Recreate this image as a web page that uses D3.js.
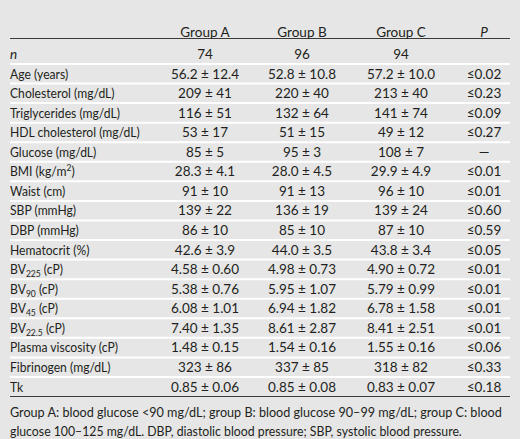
<!DOCTYPE html>
<html><head><meta charset="utf-8">
<script src="https://cdn.jsdelivr.net/npm/d3@7"></script>
<style>html,body{margin:0;padding:0;background:#e6e6e6;}svg{display:block;}</style>
</head><body>
<svg id="c" width="520" height="439"></svg>
<script>
// ---- data ----
const groups = ["Group A", "Group B", "Group C"];
const nCounts = [74, 96, 94];
const rowLabels = ["Age (years)", "Cholesterol (mg/dL)", "Triglycerides (mg/dL)", "HDL cholesterol (mg/dL)",
  "Glucose (mg/dL)", "BMI (kg/m2)", "Waist (cm)", "SBP (mmHg)", "DBP (mmHg)", "Hematocrit (%)",
  "BV225 (cP)", "BV90 (cP)", "BV45 (cP)", "BV22.5 (cP)", "Plasma viscosity (cP)", "Fibrinogen (mg/dL)", "Tk"];
const decimals = [1, 0, 0, 0, 0, 1, 0, 0, 0, 1, 2, 2, 2, 2, 2, 0, 2];
const meanA = [56.2, 209, 116, 53, 85, 28.3, 91, 139, 86, 42.6, 4.58, 5.38, 6.08, 7.40, 1.48, 323, 0.85];
const sdA   = [12.4, 41, 51, 17, 5, 4.1, 10, 22, 10, 3.9, 0.60, 0.76, 1.01, 1.35, 0.15, 86, 0.06];
const meanB = [52.8, 220, 132, 51, 95, 28.0, 91, 136, 85, 44.0, 4.98, 5.95, 6.94, 8.61, 1.54, 337, 0.85];
const sdB   = [10.8, 40, 64, 15, 3, 4.5, 13, 19, 10, 3.5, 0.73, 1.07, 1.82, 2.87, 0.16, 85, 0.08];
const meanC = [57.2, 213, 141, 49, 108, 29.9, 96, 139, 87, 43.8, 4.90, 5.79, 6.78, 8.41, 1.55, 318, 0.83];
const sdC   = [10.0, 40, 74, 12, 7, 4.9, 10, 24, 10, 3.4, 0.72, 0.99, 1.58, 2.51, 0.16, 82, 0.07];
const pValues = ["≤0.02", "≤0.23", "≤0.09", "≤0.27", "—", "≤0.01", "≤0.01", "≤0.60", "≤0.59", "≤0.05",
  "≤0.01", "≤0.01", "≤0.01", "≤0.01", "≤0.06", "≤0.33", "≤0.18"];
const footnote = ["Group A: blood glucose <90 mg/dL; group B: blood glucose 90–99 mg/dL; group C: blood",
  "glucose 100–125 mg/dL. DBP, diastolic blood pressure; SBP, systolic blood pressure."];

// ---- layout ----
const FONT = "Lato, 'Open Sans', sans-serif";
const FS = 13.5;
const TXT = "#231f20";
const svg = d3.select("#c").style("font-family", FONT).style("font-size", FS + "px");
const left = 10, right = 510;
svg.append("rect").attr("width", 520).attr("height", 439).attr("fill", "#e6e6e6");

const colKeys = ["A", "B", "C", "P"];
const x = d3.scaleOrdinal().domain(colKeys).range([205, 302, 401, 484]);
const y = d3.scaleBand().domain(d3.range(rowLabels.length)).range([64, 396.5]);

// white separators
svg.append("g").selectAll("line").data(d3.range(rowLabels.length)).join("line")
  .attr("x1", left).attr("x2", right)
  .attr("y1", d => y(d)).attr("y2", d => y(d))
  .attr("stroke", "#fff").attr("stroke-width", 2);

// rules
svg.append("line").attr("x1", left).attr("x2", right).attr("y1", 38.5).attr("y2", 38.5)
  .attr("stroke", "#3a3a3a").attr("stroke-width", 1.2);
svg.append("line").attr("x1", left).attr("x2", right).attr("y1", 396.5).attr("y2", 396.5)
  .attr("stroke", "#3a3a3a").attr("stroke-width", 1.2);

// header
const head = svg.append("g").attr("fill", TXT);
groups.forEach((g, i) => head.append("text").attr("x", x(colKeys[i])).attr("y", 36.8)
  .attr("text-anchor", "middle").text(g));
head.append("text").attr("x", x("P")).attr("y", 36.8).attr("text-anchor", "middle")
  .attr("font-style", "italic").text("P");

// n row
const nY = 59.3;
head.append("text").attr("x", left).attr("y", nY).attr("font-style", "italic").text("n");
nCounts.forEach((v, i) => head.append("text").attr("x", x(colKeys[i])).attr("y", nY)
  .attr("text-anchor", "middle").text(v));

// body rows
const fmtPM = (m, s, d) => m.toFixed(d) + " ± " + s.toFixed(d);
const body = svg.append("g").attr("fill", TXT);
const rows = body.selectAll("g.row").data(rowLabels.map((l, i) => ({l, i}))).join("g")
  .attr("class", "row")
  .attr("transform", d => `translate(0,${y(d.i) + y.bandwidth() / 2 + 4.8})`);

rows.each(function(d) {
  const g = d3.select(this);
  const t = g.append("text").attr("transform", `translate(${left},0) scale(0.9,1)`);
  const m = d.l.match(/^BV([\d.]+) (.*)$/);
  if (m) {
    t.append("tspan").text("BV");
    t.append("tspan").attr("font-size", 9.5).attr("dy", 3).text(m[1]);
    t.append("tspan").attr("dy", -3).text(" " + m[2]);
  } else if (d.l === "BMI (kg/m2)") {
    t.append("tspan").text("BMI (kg/m");
    t.append("tspan").attr("font-size", 9.5).attr("dy", -5).text("2");
    t.append("tspan").attr("dy", 5).text(")");
  } else {
    t.text(d.l);
  }
  const vals = [[meanA, sdA], [meanB, sdB], [meanC, sdC]];
  vals.forEach(([mm, ss], k) => g.append("text").attr("x", x(colKeys[k])).attr("text-anchor", "middle")
    .text(fmtPM(mm[d.i], ss[d.i], decimals[d.i])));
  g.append("text").attr("x", x("P")).attr("text-anchor", "middle").text(pValues[d.i]);
});

// footnote
const fnScale = [0.935, 0.91];
svg.append("g").attr("fill", TXT).selectAll("text").data(footnote).join("text")
  .attr("transform", (d, i) => `translate(${left},${416.5 + i * 19}) scale(${fnScale[i]},1)`)
  .text(d => d);
</script>
</body></html>
